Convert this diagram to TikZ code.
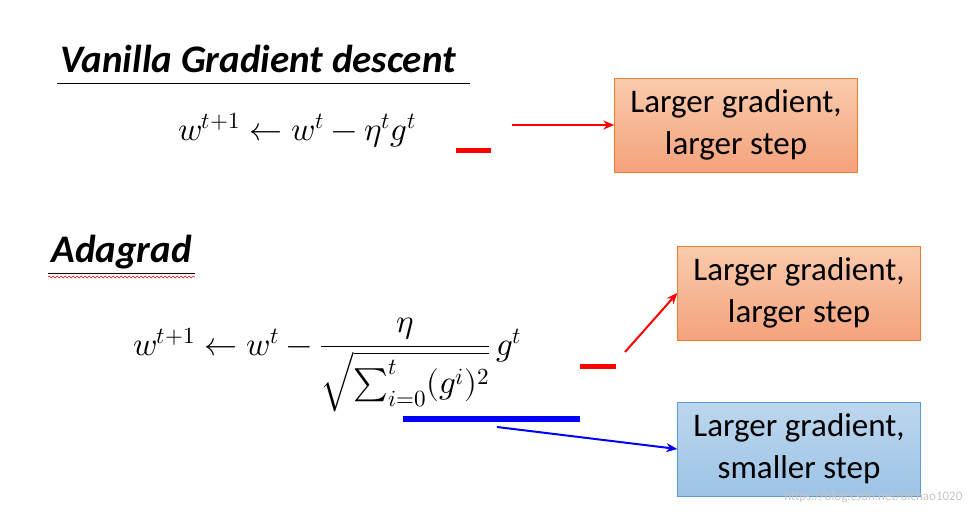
\documentclass[tikz,border=0pt]{standalone}
\usepackage{fontspec}
\usepackage{amsmath}
\usepackage{unicode-math}
\setmainfont{Carlito}
\setmathfont{Latin Modern Math}
\usetikzlibrary{arrows.meta,decorations.pathmorphing}
\definecolor{otop}{HTML}{F9CBAD}
\definecolor{obot}{HTML}{F4A27C}
\definecolor{oline}{HTML}{ED7D31}
\definecolor{btop}{HTML}{BDD7EE}
\definecolor{bbot}{HTML}{9DC3E6}
\definecolor{bline}{HTML}{5B9BD5}
\begin{document}
\begin{tikzpicture}[x=1pt,y=-1pt,
  box/.style={draw, minimum width=243pt, minimum height=94pt, align=center, font=\fontsize{33}{42}\selectfont, inner sep=0pt},
  obox/.style={box, draw=oline, top color=otop, bottom color=obot},
  bbox/.style={box, draw=bline, top color=btop, bottom color=bbot},
  arr/.style={-{Stealth[length=11pt,width=9pt]}, line width=2pt},
  eq/.style={font=\fontsize{33}{40}\selectfont, inner sep=0pt}]
\useasboundingbox (0,0) rectangle (974,517);
\node[font=\fontsize{39}{45}\selectfont\bfseries\itshape, anchor=base west] (t1) at (57,72) {Vanilla Gradient descent};
\draw[line width=0.6pt] (57,83) -- (470,83);
\node[eq, anchor=base west] (e1) at (178,140) {$w^{t+1}\leftarrow w^{t}-\eta^{t}g^{t}$};
\draw[red, line width=5pt] (456,150) -- (491,150);
\node[obox] (b1) at (736,125) {Larger gradient,\\larger step};
\coordinate (a1) at (512,125);
\draw[arr, red] (a1) -- (b1.west);
\node[font=\fontsize{39}{45}\selectfont\bfseries\itshape, anchor=base west] (t2) at (48,262) {Adagrad};
\draw[line width=0.6pt] (48,273) -- (195,273);
\draw[red, line width=0.5pt, decorate, decoration={snake, amplitude=1pt, segment length=4pt}] (48,277) -- (195,277);
\node[eq, anchor=base west] (e2) at (133,355) {$w^{t+1}\leftarrow w^{t}-\dfrac{\eta}{\sqrt{\sum_{i=0}^{t}(g^{i})^{2}}}\,g^{t}$};
\draw[red, line width=5pt] (580,366) -- (616,366);
\draw[blue, line width=6pt] (403,419) -- (580,419);
\node[obox] (b2) at (799,293) {Larger gradient,\\larger step};
\node[bbox] (b3) at (799,449) {Larger gradient,\\smaller step};
\coordinate (a2) at (625,352);
\coordinate (a3) at (497,427);
\draw[arr, red] (a2) -- (b2.west);
\draw[arr, blue] (a3) -- (b3.west);
\node[font=\fontsize{13}{15}\selectfont, text=gray!45, anchor=east] (wm) at (966,497) {https://blog.csdn.net/dichao1020};
\end{tikzpicture}
\end{document}
